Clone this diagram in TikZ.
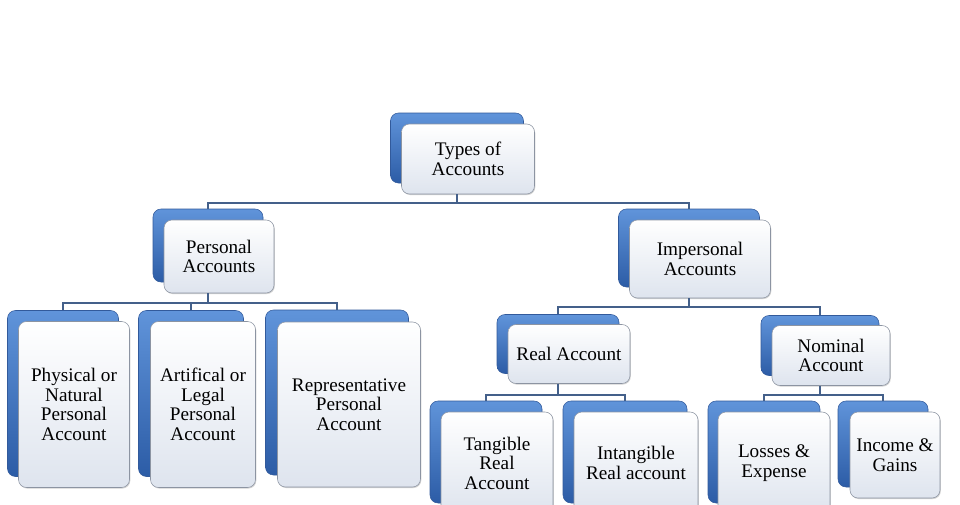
\documentclass[tikz,border=0pt]{standalone}
\usepackage{fontspec}
\setmainfont{Liberation Serif}
\usetikzlibrary{shadows}

\definecolor{bluetop}{RGB}{96,148,218}
\definecolor{bluebot}{RGB}{44,92,166}
\definecolor{blueedge}{RGB}{50,90,155}
\definecolor{frontbot}{RGB}{222,228,238}
\definecolor{frontedge}{RGB}{140,148,162}
\definecolor{linkblue}{RGB}{68,96,138}

\begin{document}
\begin{tikzpicture}[x=0.75pt, y=-0.75pt, font=\fontsize{14.4}{14.6}\selectfont]
\tikzstyle{back}=[draw=blueedge,top color=bluetop,bottom color=bluebot,rounded corners=6pt,inner sep=0pt]
\tikzstyle{front}=[draw=frontedge,top color=white,bottom color=frontbot,rounded corners=6pt,inner sep=0pt,align=center,
  drop shadow={shadow xshift=0.6pt,shadow yshift=-0.8pt,opacity=0.35}]
\tikzstyle{link}=[draw=linkblue,line width=1.7pt]
\tikzset{sz/.style 2 args={minimum width=#1*0.75pt,minimum height=#2*0.75pt}}

\useasboundingbox (0,0) rectangle (960,504);
\clip (0,0) rectangle (960,504);
\fill[white] (0,0) rectangle (960,504);

% top
\node[back,sz={133}{70}]  (types-b)  at (457,148) {};
\node[front,sz={133}{70}] (types)    at ([shift={(11,11)}]types-b) {Types of\\Accounts};

% second level
\node[back,sz={110}{73}]  (pers-b)   at (208,245.5) {};
\node[front,sz={110}{73}] (pers)     at ([shift={(11,11)}]pers-b) {Personal\\Accounts};
\node[back,sz={141}{78}]  (impers-b) at (689,248) {};
\node[front,sz={141}{78}] (impers)   at ([shift={(11,11)}]impers-b) {Impersonal\\Accounts};

% personal accounts
\node[back,sz={111}{166}]  (phys-b)  at (63,393.5) {};
\node[front,sz={111}{166}] (phys)    at ([shift={(11,11)}]phys-b) {Physical or\\Natural\\Personal\\Account};
\node[back,sz={105}{166}]  (artif-b) at (191,393.5) {};
\node[front,sz={105}{166}] (artif)   at ([shift={(12,11)}]artif-b) {Artifical or\\Legal\\Personal\\Account};
\node[back,sz={143}{165}]  (repr-b)  at (337,392.5) {};
\node[front,sz={143}{165}] (repr)    at ([shift={(12,12)}]repr-b) {Representative\\Personal\\Account};

% impersonal accounts
\node[back,sz={122}{59}]  (real-b)  at (558,344) {};
\node[front,sz={122}{59}] (real)    at ([shift={(11,10)}]real-b) {Real Account};
\node[back,sz={118}{60}]  (nomin-b) at (820,345.5) {};
\node[front,sz={118}{60}] (nomin)   at ([shift={(11,10)}]nomin-b) {Nominal\\Account};

% real and nominal
\node[back,sz={112}{102}]  (tang-b)   at (486,452) {};
\node[front,sz={112}{102}] (tang)     at ([shift={(11,11)}]tang-b) {Tangible\\Real\\Account};
\node[back,sz={124}{102}]  (intang-b) at (625,452) {};
\node[front,sz={124}{102}] (intang)   at ([shift={(11,11)}]intang-b) {Intangible\\Real account};
\node[back,sz={112}{102}]  (loss-b)   at (764,452) {};
\node[front,sz={112}{102}] (loss)     at ([shift={(10,11)}]loss-b) {Losses \&\\Expense};
\node[back,sz={90}{86}]    (inc-b)    at (883,444) {};
\node[front,sz={90}{86}]   (inc)      at ([shift={(12,11)}]inc-b) {Income \&\\Gains};

% bar heights
\coordinate (bar1)  at (0,203);
\coordinate (barp)  at (0,303);
\coordinate (bari)  at (0,307);
\coordinate (barr)  at (0,395);
\coordinate (barn)  at (0,395);

\draw[link] (types-b |- types.south) -- (types-b |- bar1) -| (pers-b.north);
\draw[link] (types-b |- bar1) -| (impers-b.north);

\draw[link] (pers-b |- pers.south) -- (pers-b |- barp) -| (phys-b.north);
\draw[link] (pers-b |- barp) -| (artif-b.north);
\draw[link] (pers-b |- barp) -| (repr-b.north);

\draw[link] (impers-b |- impers.south) -- (impers-b |- bari) -| (real-b.north);
\draw[link] (impers-b |- bari) -| (nomin-b.north);

\draw[link] (real-b |- real.south) -- (real-b |- barr) -| (tang-b.north);
\draw[link] (real-b |- barr) -| (intang-b.north);

\draw[link] (nomin-b |- nomin.south) -- (nomin-b |- barn) -| (loss-b.north);
\draw[link] (nomin-b |- barn) -| (inc-b.north);
\end{tikzpicture}
\end{document}
